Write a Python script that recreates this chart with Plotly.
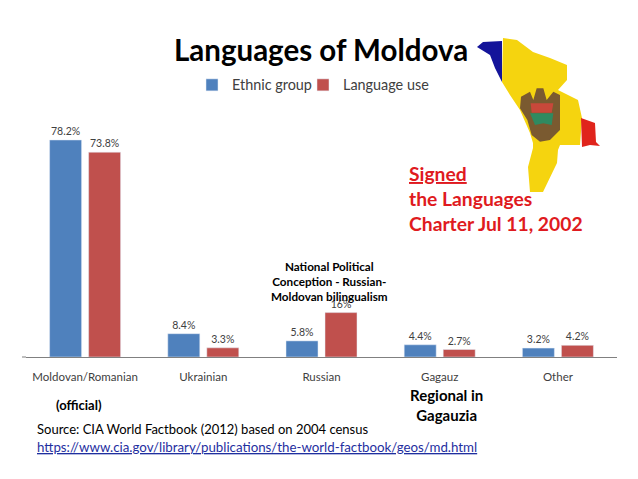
import plotly.graph_objects as go

categories = ["Moldovan/Romanian", "Ukrainian", "Russian", "Gagauz", "Other"]
ethnic_group = [78.2, 8.4, 5.8, 4.4, 3.2]
language_use = [73.8, 3.3, 16, 2.7, 4.2]
ethnic_labels = ["78.2%", "8.4%", "5.8%", "4.4%", "3.2%"]
language_labels = ["73.8%", "3.3%", "16%", "2.7%", "4.2%"]

OFF = 8  # the page body has a default 8px margin
W, H = 638 - OFF, 479 - OFF
PLOT_LEFT, PLOT_RIGHT, PLOT_TOP, AXIS_Y = 26, 617, 110, 357
L, R, T, B = PLOT_LEFT - OFF, W + OFF - PLOT_RIGHT, PLOT_TOP - OFF, H + OFF - AXIS_Y
FONT = "Lato, Carlito, sans-serif"
px = lambda x: (x - PLOT_LEFT) / (PLOT_RIGHT - PLOT_LEFT)
py = lambda y: 1 - (y - PLOT_TOP) / (AXIS_Y - PLOT_TOP)
RED = "#DF1A20"


def path(points):
    return "M" + " L".join(f"{px(x):.5f},{py(y):.5f}" for x, y in points) + " Z"


def zm(points):
    return [(440 + x / 3, 20 + y / 3) for x, y in points]


map_yellow = [(503, 38), (517, 40), (533, 52), (550, 58), (567, 65), (567, 80), (558, 90), (578, 100),
              (582, 118), (580, 145), (560, 145), (558, 150), (557, 163), (543, 192), (530, 192),
              (528, 167), (533, 148), (533, 143), (530, 133), (520, 110), (510, 95), (502, 82)]
map_blue = [(477, 47), (483, 42), (502, 41), (502, 82), (495, 68), (490, 55)]
map_red = [(581, 118), (595, 123), (596, 142), (600, 146), (590, 145), (582, 147)]
map_shield = zm([(243, 230), (270, 215), (280, 240), (290, 205), (310, 205), (320, 240), (340, 215), (360, 225),
                 (360, 330), (330, 360), (300, 365), (275, 345), (262, 300), (240, 265)])
map_red_crest = zm([(272, 250), (340, 250), (335, 278), (275, 278)])
map_green_crest = zm([(270, 280), (340, 280), (335, 315), (310, 310), (285, 315)])

fig = go.Figure()
fig.add_bar(name="Ethnic group", x=categories, y=ethnic_group, marker_color="#4F81BD",
            text=ethnic_labels, textposition="outside", cliponaxis=False, legend="legend")
fig.add_bar(name="Language use", x=categories, y=language_use, marker_color="#C0504D",
            text=language_labels, textposition="outside", cliponaxis=False, legend="legend2")
fig.update_traces(textfont=dict(size=10.5, color="#404040"), textangle=0)


def note(x, y, text, size, color="#000000", bold=False, anchor="center"):
    fig.add_annotation(xref="paper", yref="paper", x=px(x), y=py(y), text=f"<b>{text}</b>" if bold else text,
                       showarrow=False, xanchor=anchor, yanchor="middle", align=anchor,
                       font=dict(family=FONT, size=size, color=color))


note(321, 50, "Languages of Moldova", 29.5, bold=True)
note(330, 281, "National Political<br>Conception - Russian-<br>Moldovan bilingualism", 11.7, bold=True)
note(79, 405, "(official)", 13, bold=True)
note(446, 405, "Regional in<br>Gagauzia", 15, bold=True)
note(35, 429, "Source: CIA World Factbook (2012) based on 2004 census", 13, anchor="left")
note(35, 447, '<span style="text-decoration:underline">https://www.cia.gov/library/publications/the-world-factbook/geos/md.html</span>',
     13.3, color="#1F2F9F", anchor="left")
note(407, 173, '<span style="text-decoration:underline">Signed</span>', 19.3, color=RED, bold=True, anchor="left")
note(407, 198, "the Languages", 19.3, color=RED, bold=True, anchor="left")
note(407, 223, "Charter Jul 11, 2002", 19.3, color=RED, bold=True, anchor="left")

legend_font = dict(size=14.4, color="#404040")
fig.update_layout(
    width=W, height=H, autosize=False,
    margin=dict(l=L, r=R, t=T, b=B),
    paper_bgcolor="white", plot_bgcolor="white",
    barmode="group", bargap=0.34, bargroupgap=0.18,
    font=dict(family=FONT, size=11, color="#404040"),
    showlegend=True,
    legend=dict(orientation="h", x=px(192), xanchor="left", y=py(85), yanchor="middle",
                font=legend_font, itemwidth=30, bgcolor="rgba(0,0,0,0)"),
    legend2=dict(orientation="h", x=px(303), xanchor="left", y=py(85), yanchor="middle",
                 font=legend_font, itemwidth=30, bgcolor="rgba(0,0,0,0)"),
    xaxis=dict(showline=True, linecolor="#808080", linewidth=1, ticks="", ticklabelstandoff=9,
               tickfont=dict(size=11.5, color="#404040")),
    yaxis=dict(visible=False, range=[0, (AXIS_Y - PLOT_TOP) / 2.775]),
    shapes=[dict(type="path", xref="paper", yref="paper", path=path(p), fillcolor=c, line=dict(width=0), layer="below")
            for p, c in [(map_yellow, "#F5D40F"), (map_blue, "#14149A"), (map_red, "#E0241C"),
                         (map_shield, "#7A5A30"), (map_red_crest, "#C8483A"), (map_green_crest, "#2F8A60")]]
           + [dict(type="line", xref="paper", yref="paper", x0=px(22), x1=px(26), y0=0, y1=0,
                   line=dict(color="#808080", width=1))],
)

fig.write_html("out.html")
